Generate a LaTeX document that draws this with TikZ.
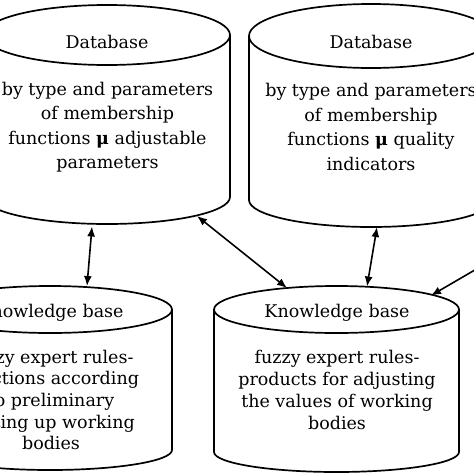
\documentclass[tikz,border=0pt]{standalone}
\usepackage{fontspec}
\setmainfont{DejaVu Serif}
\usetikzlibrary{arrows.meta}
\tikzset{
  cylline/.style={draw=black, line width=1.7pt},
  twoway/.style={line width=1.6pt, {Latex[length=10pt,width=8pt]}-{Latex[length=10pt,width=8pt]}},
  oneway/.style={line width=1.6pt, -{Latex[length=10pt,width=8pt]}},
  cyltitle/.style={font=\fontsize{17.5}{21}\selectfont, inner sep=0pt},
  bodytop/.style={align=center, font=\fontsize{17.5}{24.5}\selectfont, inner sep=0pt},
  bodybot/.style={align=center, font=\fontsize{17.5}{21.7}\selectfont, inner sep=0pt},
}
% cx, y of top ellipse centre, top ry, y of bottom centre, bottom ry, half width
\newcommand\drawcyl[6]{%
  \draw[cylline] (#1,#2) ellipse [x radius=#6pt, y radius=#3pt];
  \draw[cylline] (#1-#6,#2) -- (#1-#6,#4)
     arc[start angle=180, end angle=360, x radius=#6pt, y radius=#5pt]
     -- (#1+#6,#2);
}
\begin{document}
\begin{tikzpicture}[x=1pt,y=-1pt]
\useasboundingbox (0,0) rectangle (474,474);
\fill[white] (0,0) rectangle (474,474);
\clip (0,0) rectangle (474,474);

% cylinders
\drawcyl{107}{35}{30}{197}{27}{123}
\drawcyl{371}{36}{32}{200}{27}{122}
\drawcyl{50}{309.5}{23.5}{450}{20}{122}
\drawcyl{336.5}{309.5}{23.5}{452}{20}{122.5}

% texts
\node[cyltitle] (db1t) at (107,42) {Database};
\node[bodytop] (db1b) at (107.5,127) {by type and parameters\\of membership\\functions \textbf{μ} adjustable\\parameters};
\node[cyltitle] (db2t) at (371,42) {Database};
\node[bodytop] (db2b) at (371,127) {by type and parameters\\of membership\\functions \textbf{μ} quality\\indicators};
\node[cyltitle] (kb1t) at (51,313) {Knowledge base};
\node[bodybot] (kb1b) at (51,400) {fuzzy expert rules-\\functions according\\to preliminary\\setting up working\\bodies};
\node[cyltitle] (kb2t) at (337,313) {Knowledge base};
\node[bodybot] (kb2b) at (337,390) {fuzzy expert rules-\\products for adjusting\\the values of working\\bodies};

% connector end points
\coordinate (db1a) at (92,226.5);
\coordinate (kb1a) at (87,286);
\coordinate (db1c) at (197,216);
\coordinate (kb2a) at (287,288);
\coordinate (db2a) at (377,227);
\coordinate (kb2b) at (367,286.5);
\coordinate (ext) at (492,260);
\coordinate (kb2c) at (431,295.5);

\draw[twoway] (db1a) -- (kb1a);
\draw[twoway] (db1c) -- (kb2a);
\draw[twoway] (db2a) -- (kb2b);
\draw[oneway] (ext) -- (kb2c);
\end{tikzpicture}
\end{document}
